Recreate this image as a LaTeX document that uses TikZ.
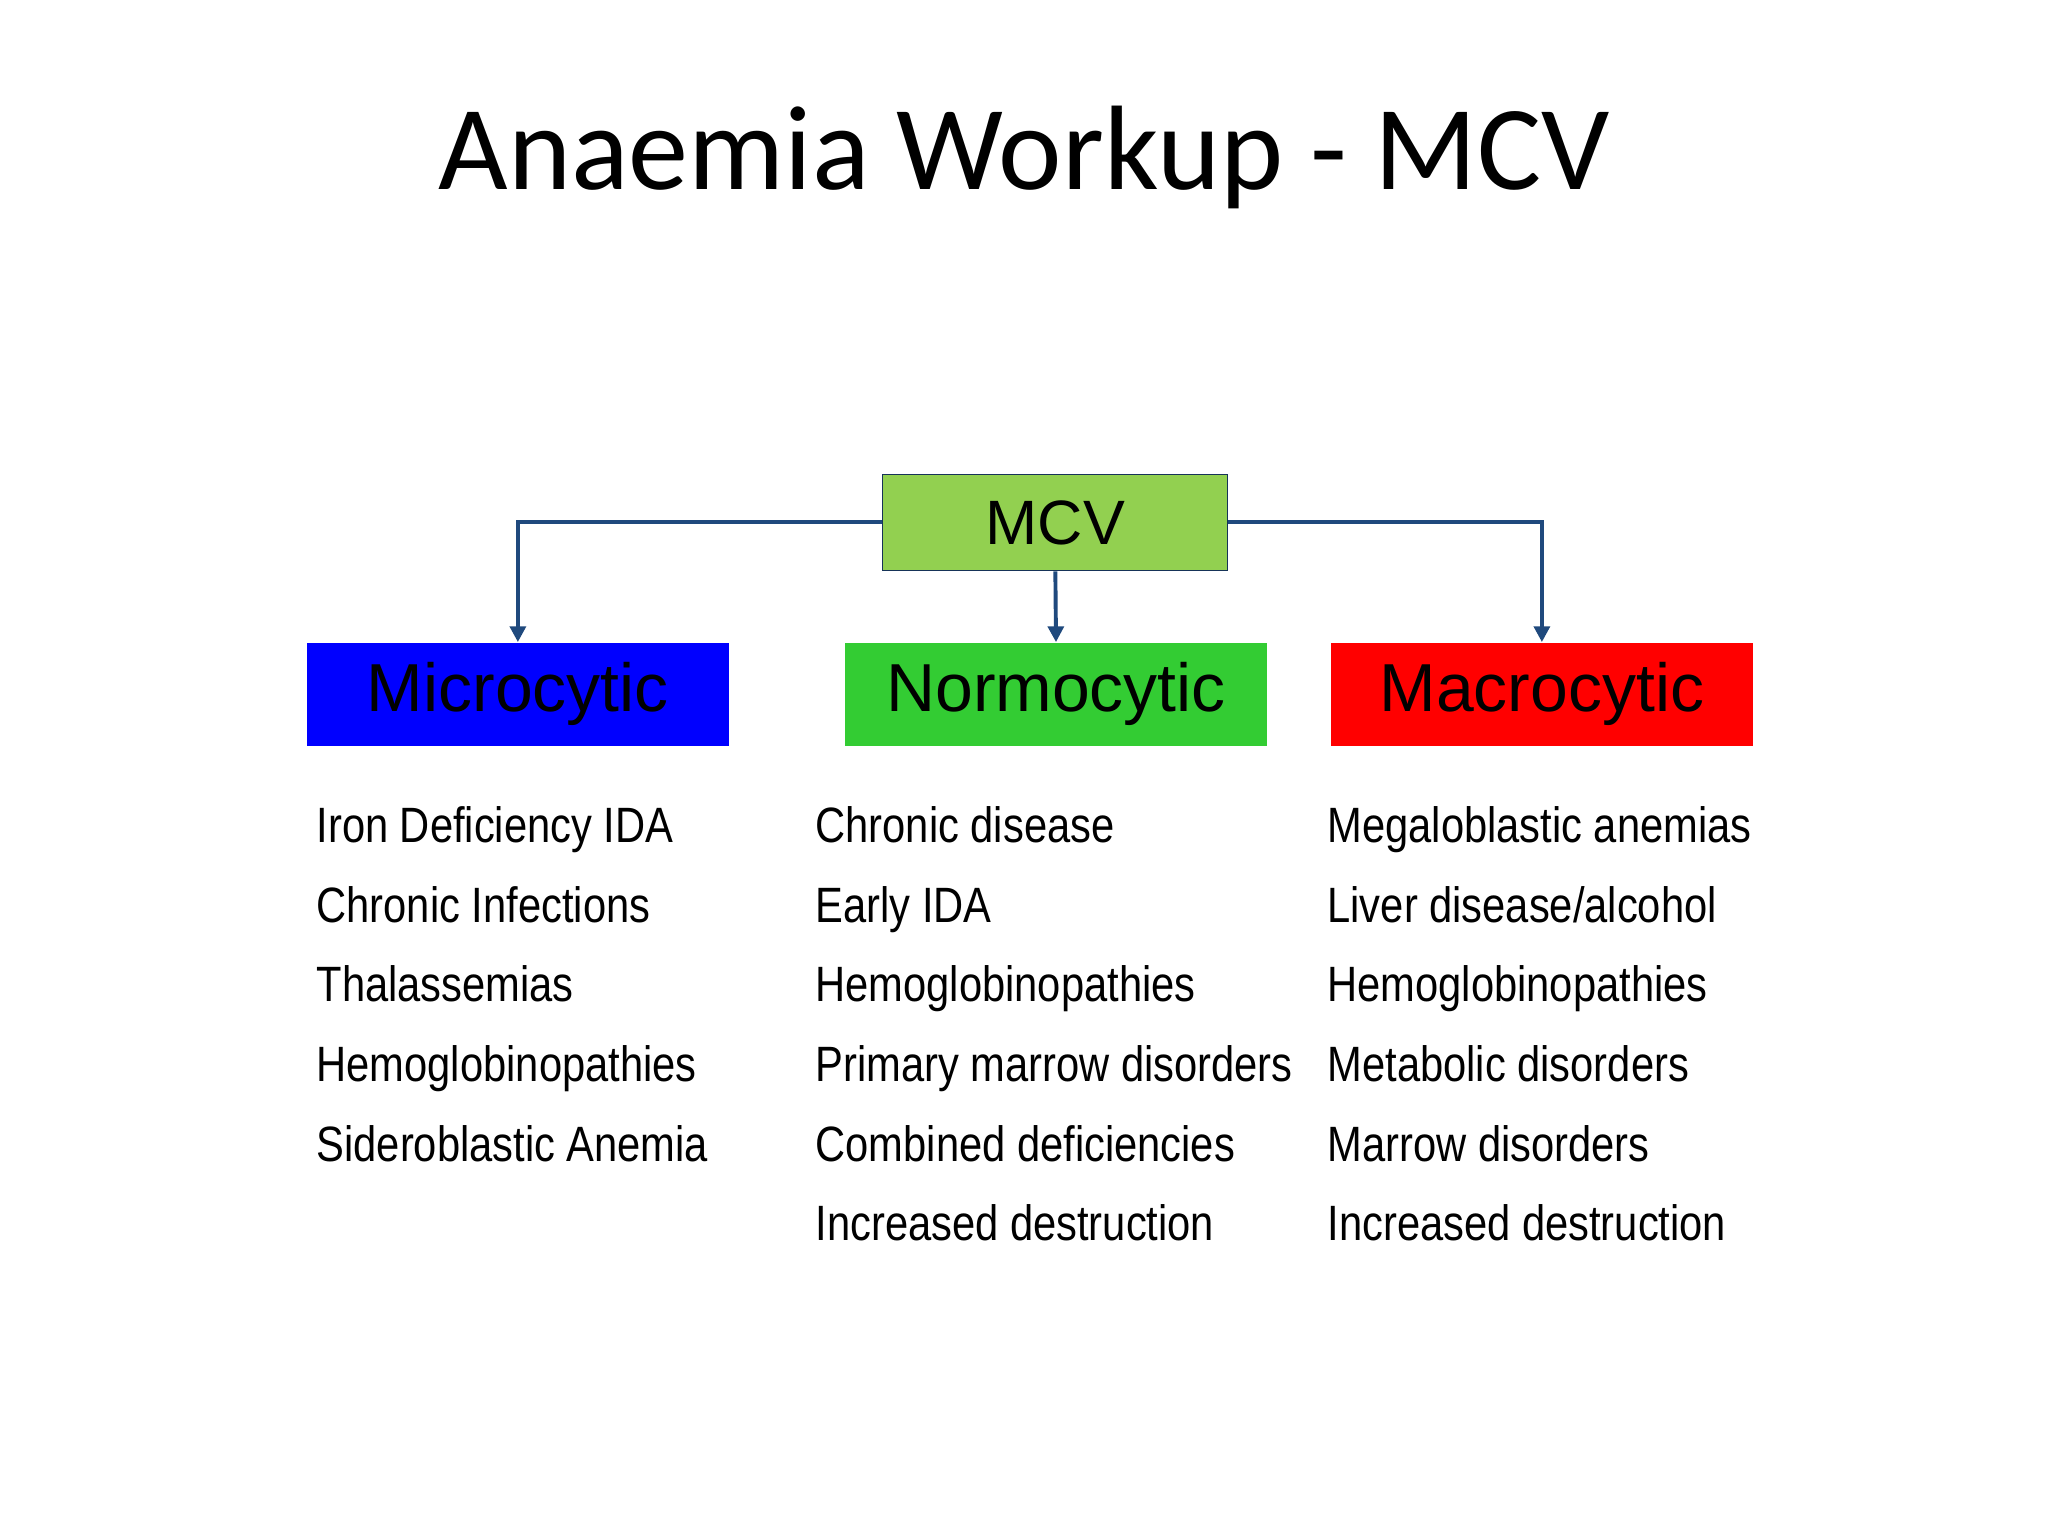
\documentclass[tikz,border=0pt]{standalone}
\usepackage{fontspec}
\setmainfont{Liberation Sans}
\newfontfamily\titlefont{Carlito}
\newfontfamily\narrowfont[FakeStretch=0.84]{Liberation Sans}
\usetikzlibrary{arrows.meta}
\definecolor{lgreen}{RGB}{146,208,80}
\definecolor{ngreen}{RGB}{51,204,51}
\definecolor{arrowblue}{RGB}{31,73,125}
\tikzset{
  cat/.style={minimum width=161.5pt,minimum height=39.5pt,inner sep=0pt,font=\fontsize{26}{30}\selectfont},
  conn/.style={draw=arrowblue,line width=1.5pt,-{Triangle[length=6pt,width=6pt]}},
  item/.style={anchor=base west,inner sep=0pt,font=\narrowfont\fontsize{19}{22}\selectfont}
}
\begin{document}
\begin{tikzpicture}[x=0.5pt,y=-0.5pt]
\useasboundingbox[fill=white] (0,0) rectangle (1568,1176);
\node[anchor=base,inner sep=0pt,font=\titlefont\fontsize{46}{50}\selectfont] (title) at (784,145) {Anaemia Workup - MCV};
\node[draw=arrowblue!70!black,fill=lgreen,minimum width=132pt,minimum height=37pt,inner sep=0pt,font=\fontsize{24}{28}\selectfont] (mcv) at (808,400) {MCV};
\node[cat,fill=blue] (mi) at (396.5,531.5) {Microcytic};
\node[cat,fill=ngreen] (no) at (808.5,531.5) {Normocytic};
\node[cat,fill=red] (ma) at (1180.5,531.5) {Macrocytic};
\draw[conn] (mcv.west) -| (mi.north);
\draw[conn] (mcv.east) -| (ma.north);
\draw[conn] (mcv.south) -- (no.north);
\foreach \t [count=\i] in {Iron Deficiency IDA,Chronic Infections,Thalassemias,Hemoglobinopathies,Sideroblastic Anemia}
  \node[item] (a\i) at (242,584+61*\i) {\t};
\foreach \t [count=\i] in {Chronic disease,Early IDA,Hemoglobinopathies,Primary marrow disorders,Combined deficiencies,Increased destruction}
  \node[item] (b\i) at (624,584+61*\i) {\t};
\foreach \t [count=\i] in {Megaloblastic anemias,Liver disease/alcohol,Hemoglobinopathies,Metabolic disorders,Marrow disorders,Increased destruction}
  \node[item] (c\i) at (1016,584+61*\i) {\t};
\end{tikzpicture}
\end{document}
